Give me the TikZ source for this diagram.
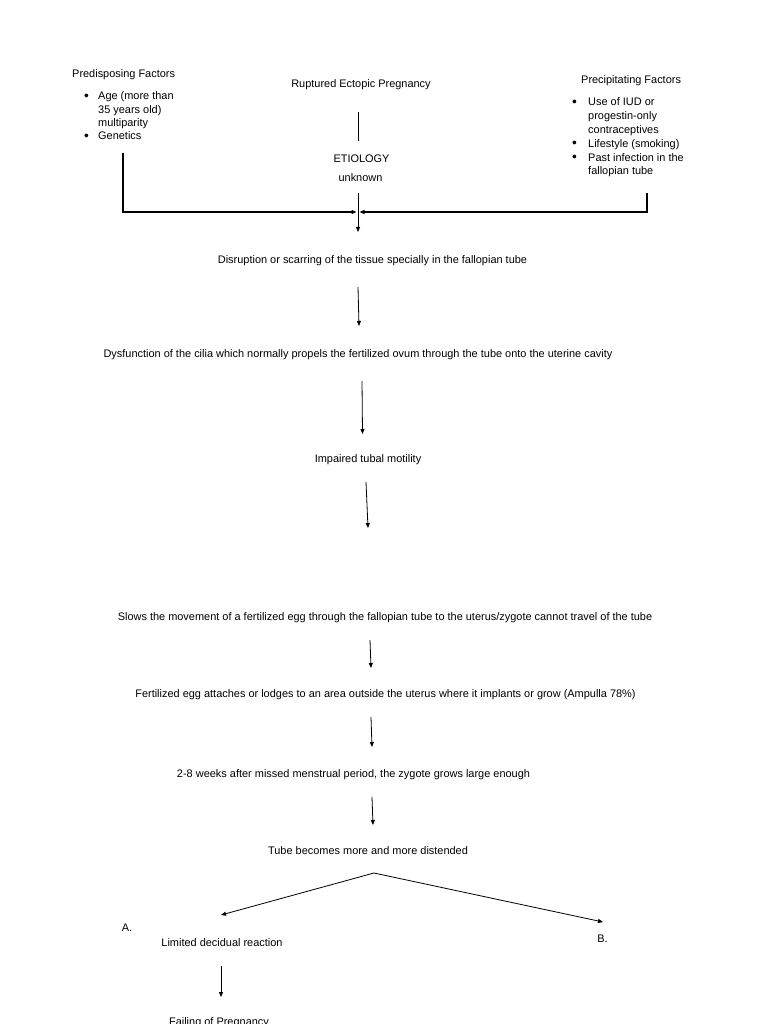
\documentclass[tikz,border=0pt]{standalone}
\usepackage{fontspec}
\setmainfont{Liberation Sans}
\usetikzlibrary{arrows.meta}
\newcommand{\blt}{\raisebox{-0.3pt}{\scalebox{1.25}{\textbullet}}}
\begin{document}
\begin{tikzpicture}[x=1pt,y=-1pt,
  lbl/.style={inner sep=0pt, font=\fontsize{10.95}{13.3}\selectfont, text=black},
  arr/.style={-{Triangle[length=5pt,width=4pt]}, line width=0.8pt},
  plain/.style={line width=0.8pt},
  bar/.style={line width=1.5pt}]
\useasboundingbox[fill=white] (0,0) rectangle (768,1024);

% top headings and lists
\node[lbl, anchor=base west] (pre) at (72,78) {Predisposing Factors};
\node[lbl, anchor=base west] (plist) at (84,100) {\begin{tabular}[t]{@{}p{14pt}@{}l@{}}
\blt & Age (more than\\
 & 35 years old)\\
 & multiparity\\
\blt & Genetics
\end{tabular}};
\node[lbl] (rup) at (361,85) {Ruptured Ectopic Pregnancy};
\node[lbl] (eti) at (361.5,159) {ETIOLOGY};
\node[lbl] (unk) at (360.5,178) {unknown};
\node[lbl, anchor=base west] (prec) at (581,84) {Precipitating Factors};
\node[lbl, anchor=base west] (rlist) at (572,106) {\fontsize{10.95}{13.8}\selectfont\begin{tabular}[t]{@{}p{16pt}@{}l@{}}
\blt & Use of IUD or\\
 & progestin-only\\
 & contraceptives\\
\blt & Lifestyle (smoking)\\
\blt & Past infection in the\\
 & fallopian tube
\end{tabular}};

% chain texts
\node[lbl] (dis) at (372.5,261) {Disruption or scarring of the tissue specially in the fallopian tube};
\node[lbl] (dys) at (358,355) {Dysfunction of the cilia which normally propels the fertilized ovum through the tube onto the uterine cavity};
\node[lbl] (imp) at (368,460) {Impaired tubal motility};
\node[lbl] (slo) at (385,618) {Slows the movement of a fertilized egg through the fallopian tube to the uterus/zygote cannot travel of the tube};
\node[lbl] (fer) at (385.5,695) {Fertilized egg attaches or lodges to an area outside the uterus where it implants or grow (Ampulla 78\%)};
\node[lbl] (wks) at (353.5,775) {2-8 weeks after missed menstrual period, the zygote grows large enough};
\node[lbl] (tub) at (368,851) {Tube becomes more and more distended};
\node[lbl] (A) at (127,928) {A.};
\node[lbl] (B) at (602.5,939) {B.};
\node[lbl] (lim) at (222,943) {Limited decidual reaction};
\node[lbl] (fail) at (219,1023) {Failing of Pregnancy};

% connector coordinates
\coordinate (r1) at (358,112);
\coordinate (r2) at (358,141);
\coordinate (lt) at (123,153);
\coordinate (lb) at (123,212);
\coordinate (jl) at (356.5,212);
\coordinate (rt) at (647,193);
\coordinate (rb) at (647,212);
\coordinate (jr) at (359.5,212);
\coordinate (ct) at (358,193);
\coordinate (cb) at (358,232);
\coordinate (a1s) at (358,287);  \coordinate (a1e) at (359,326);
\coordinate (a2s) at (362,381);  \coordinate (a2e) at (362.5,434);
\coordinate (a3s) at (366,482);  \coordinate (a3e) at (368,528);
\coordinate (a4s) at (370,640);  \coordinate (a4e) at (371,668);
\coordinate (a5s) at (371,717);  \coordinate (a5e) at (372,747);
\coordinate (a6s) at (372,797);  \coordinate (a6e) at (373,825);
\coordinate (br) at (374,873);
\coordinate (brA) at (221,915);
\coordinate (brB) at (603,922);
\coordinate (a7s) at (221,966);  \coordinate (a7e) at (221,997);

% connectors
\draw[plain] (r1) -- (r2);
\draw[bar, -{Triangle[length=5pt,width=4pt]}] (lt) -- (lb) -- (jl);
\draw[bar, -{Triangle[length=5pt,width=4pt]}] (rt) -- (rb) -- (jr);
\draw[arr] (ct) -- (cb);
\draw[arr] (a1s) -- (a1e);
\draw[arr] (a2s) -- (a2e);
\draw[arr] (a3s) -- (a3e);
\draw[arr] (a4s) -- (a4e);
\draw[arr] (a5s) -- (a5e);
\draw[arr] (a6s) -- (a6e);
\draw[arr] (br) -- (brA);
\draw[arr] (br) -- (brB);
\draw[arr] (a7s) -- (a7e);
\end{tikzpicture}
\end{document}
